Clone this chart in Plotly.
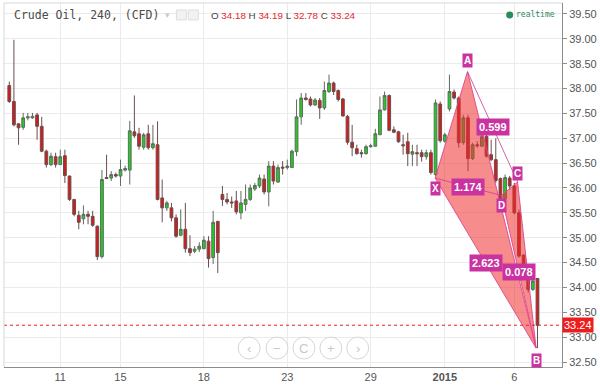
import plotly.graph_objects as go

# ---------------- data ----------------
opens = [38.06, 37.74, 37.29, 37.22, 37.41, 37.41, 37.47, 37.24, 36.74, 36.47,
         36.63, 36.47, 36.65, 36.24, 35.77, 35.45, 35.38, 35.47, 35.43, 35.23,
         34.62, 36.21, 36.20, 36.27, 36.24, 36.36, 36.36, 37.13, 37.09, 36.82,
         37.09, 36.81, 36.87, 35.80, 35.60, 35.60, 35.40, 35.05, 35.17, 34.78,
         34.73, 34.77, 34.78, 34.93, 34.60, 35.33, 35.87, 35.77, 35.72, 35.74,
         35.50, 35.67, 35.77, 35.98, 36.04, 36.18, 35.92, 36.44, 36.12, 36.42,
         36.41, 36.41, 36.73, 37.43, 37.81, 37.79, 37.67, 37.76, 37.61, 37.94,
         38.11, 37.96, 37.79, 37.44, 36.92, 36.79, 36.71, 36.69, 36.83, 36.84,
         37.07, 37.57, 37.86, 37.17, 37.13, 36.87, 36.93, 36.68, 36.71, 36.71,
         36.63, 36.71, 36.27, 37.69, 36.94, 37.59, 37.93, 37.81, 36.91, 37.41,
         36.59, 36.87, 36.84, 37.04, 36.67, 36.57, 36.19, 35.79, 36.20, 36.04,
         35.50, 34.65, 34.30, 33.96, 34.18]
highs = [38.14, 38.98, 37.30, 37.51, 37.51, 37.51, 37.51, 37.43, 36.77, 36.71,
         36.71, 36.77, 36.77, 36.25, 35.77, 35.54, 35.65, 35.54, 35.54, 35.25,
         36.36, 36.67, 36.34, 36.31, 36.57, 36.45, 37.35, 37.86, 37.21, 37.11,
         37.27, 37.27, 37.34, 36.17, 35.74, 35.70, 35.47, 35.57, 35.70, 35.05,
         34.83, 34.91, 35.03, 35.03, 35.54, 35.33, 36.04, 35.90, 35.83, 35.94,
         35.94, 36.07, 36.07, 36.10, 36.27, 36.27, 36.54, 36.54, 36.47, 36.54,
         36.57, 36.77, 37.78, 37.91, 37.91, 37.84, 37.81, 37.81, 38.14, 38.28,
         38.14, 37.98, 37.81, 37.47, 37.27, 36.87, 36.77, 36.87, 36.89, 37.19,
         37.84, 37.94, 37.88, 37.24, 37.15, 37.07, 37.11, 36.87, 36.87, 36.77,
         36.77, 36.77, 37.78, 37.74, 37.11, 38.28, 37.98, 37.84, 37.47, 37.47,
         36.91, 36.94, 37.07, 37.07, 36.97, 37.00, 36.21, 36.27, 36.24, 36.10,
         35.57, 34.67, 34.30, 34.17, 34.19]
lows = [37.71, 37.24, 36.87, 37.17, 37.36, 37.39, 36.97, 36.72, 36.41, 36.44,
        36.41, 36.47, 36.10, 35.74, 35.43, 35.17, 35.27, 35.27, 35.22, 34.55,
        34.58, 36.18, 36.14, 36.21, 36.04, 36.33, 36.07, 37.01, 36.77, 36.77,
        36.77, 36.77, 35.75, 35.31, 35.54, 35.33, 35.00, 35.03, 34.70, 34.63,
        34.69, 34.71, 34.77, 34.40, 34.47, 34.29, 35.64, 35.67, 35.60, 35.47,
        35.37, 35.54, 35.74, 35.94, 36.00, 35.87, 35.63, 36.07, 36.10, 36.27,
        36.37, 36.41, 36.64, 37.27, 37.76, 37.64, 37.65, 37.39, 37.57, 37.91,
        37.87, 37.74, 37.43, 36.87, 36.64, 36.67, 36.61, 36.67, 36.81, 36.83,
        37.07, 37.56, 37.14, 37.11, 36.91, 36.67, 36.44, 36.44, 36.44, 36.53,
        36.57, 36.27, 36.24, 36.91, 36.91, 37.54, 37.78, 36.81, 36.87, 36.34,
        36.56, 36.81, 36.83, 36.61, 36.54, 36.10, 35.67, 35.77, 35.97, 35.47,
        34.60, 34.27, 33.90, 33.93, 32.78]
closes = [37.74, 37.27, 37.21, 37.41, 37.43, 37.44, 37.24, 36.74, 36.47, 36.64,
          36.47, 36.63, 36.25, 35.77, 35.47, 35.31, 35.47, 35.43, 35.25, 34.62,
          36.17, 36.19, 36.27, 36.24, 36.37, 36.39, 37.15, 37.05, 36.84, 37.07,
          36.81, 36.89, 35.77, 35.60, 35.70, 35.40, 35.03, 35.17, 34.78, 34.70,
          34.77, 34.83, 34.95, 34.58, 35.31, 34.70, 35.77, 35.72, 35.70, 35.52,
          35.70, 35.77, 36.00, 36.05, 36.20, 35.92, 36.44, 36.14, 36.41, 36.40,
          36.44, 36.74, 37.43, 37.81, 37.78, 37.67, 37.77, 37.61, 37.96, 38.11,
          37.94, 37.78, 37.45, 36.92, 36.81, 36.69, 36.69, 36.83, 36.85, 37.09,
          37.57, 37.86, 37.16, 37.12, 36.93, 36.85, 36.69, 36.73, 36.69, 36.63,
          36.71, 36.31, 37.71, 36.95, 37.07, 37.94, 37.81, 36.91, 37.41, 36.59,
          36.87, 36.85, 37.03, 36.64, 36.57, 36.15, 35.79, 36.21, 36.04, 35.50,
          34.63, 34.30, 33.96, 34.13, 33.24]
bar_index = list(range(len(opens)))

tick_index = [11, 24, 42, 60, 78, 94, 109]
tick_labels = ["11", "15", "18", "23", "29", "<b>2015</b>", "6"]
price_ticks = [32.5, 33.0, 33.5, 34.0, 34.5, 35.0, 35.5, 36.0, 36.5, 37.0, 37.5, 38.0, 38.5, 39.0, 39.5]

# XABCD pattern points (bar index, price)
pat_names = ["X", "A", "B", "C", "D"]
pat_x = [91.9, 98.9, 113.7, 109.7, 106.2]
pat_y = [36.20, 38.34, 32.78, 36.12, 35.85]
ratio_text = ["2.623", "0.599", "0.078", "1.174"]   # XB, AC, BD, XD

last_price = 33.24
header_ohlc = ["34.18", "34.19", "32.78", "33.24"]

# ---------------- geometry helpers ----------------
L, R, T, B = 4, 564, 3, 368
W, H = 600, 386
def px(x):
    return (x - L) / (R - L)
def py(y):
    return (B - y) / (B - T)

fig = go.Figure()

fig.add_trace(go.Candlestick(
    x=bar_index, open=opens, high=highs, low=lows, close=closes,
    increasing=dict(fillcolor="#22cc22", line=dict(color="#5f6b5f", width=1)),
    decreasing=dict(fillcolor="#d61a1a", line=dict(color="#6b4d4d", width=1)),
    whiskerwidth=0, showlegend=False, hoverinfo="skip"))

P = dict(zip(pat_names, zip(pat_x, pat_y)))
fill_col = "rgba(240,45,45,0.55)"
edge_col = "rgba(222,70,140,0.9)"
for tri in (["X", "A", "B", "X"], ["B", "C", "D", "B"]):
    fig.add_trace(go.Scatter(
        x=[P[k][0] for k in tri], y=[P[k][1] for k in tri],
        mode="lines", fill="toself", fillcolor=fill_col,
        line=dict(color=edge_col, width=1), showlegend=False, hoverinfo="skip"))
for a, b in (("A", "C"), ("X", "D")):
    fig.add_trace(go.Scatter(
        x=[P[a][0], P[b][0]], y=[P[a][1], P[b][1]], mode="lines",
        line=dict(color="rgba(200,60,150,0.8)", width=1),
        showlegend=False, hoverinfo="skip"))

ann = []
lab_col = "#c9329f"
label_shift = {"X": -10, "A": 11, "B": -12, "C": 9, "D": -10}
for k in pat_names:
    ann.append(dict(x=P[k][0], y=P[k][1], xref="x", yref="y", text="<b>%s</b>" % k,
                    showarrow=False, yshift=label_shift[k], bgcolor=lab_col,
                    xanchor="center", yanchor="middle",
                    font=dict(color="white", size=10, family="Liberation Sans"), borderpad=1))
pairs = [("X", "B"), ("A", "C"), ("B", "D"), ("X", "D")]
for (a, b), t in zip(pairs, ratio_text):
    ann.append(dict(x=(P[a][0] + P[b][0]) / 2, y=(P[a][1] + P[b][1]) / 2, xref="x", yref="y",
                    text="<b>%s</b>" % t, showarrow=False, bgcolor=lab_col,
                    xanchor="center", yanchor="middle",
                    font=dict(color="white", size=11, family="Liberation Sans"), borderpad=2))

# header
ann.append(dict(x=px(12), y=py(15), xref="paper", yref="paper", xanchor="left", yanchor="middle",
                text="Crude Oil, 240, (CFD)", showarrow=False,
                font=dict(family="DejaVu Sans Mono", size=11.5, color="#4a4a4a")))
ann.append(dict(x=px(164), y=py(15), xref="paper", yref="paper", xanchor="left", yanchor="middle",
                text="▾", showarrow=False, font=dict(size=9, color="#cccccc")))
red = "#e0282d"
ohlc_txt = ("O <span style='color:%s'>%s</span> H <span style='color:%s'>%s</span> "
            "L <span style='color:%s'>%s</span> C <span style='color:%s'>%s</span>") % (
    red, header_ohlc[0], red, header_ohlc[1], red, header_ohlc[2], red, header_ohlc[3])
ann.append(dict(x=px(210), y=py(16), xref="paper", yref="paper", xanchor="left", yanchor="middle",
                text=ohlc_txt, showarrow=False,
                font=dict(family="Liberation Sans", size=9.8, color="#444444")))
ann.append(dict(x=px(516), y=py(15), xref="paper", yref="paper", xanchor="left", yanchor="middle",
                text="realtime", showarrow=False,
                font=dict(family="DejaVu Sans Mono", size=8, color="#2c8a5c")))
# last price label
ann.append(dict(x=1, y=last_price, xref="paper", yref="y", xanchor="left", yanchor="middle",
                text="%.2f" % last_price, showarrow=False, bgcolor="#ee1c1c",
                font=dict(family="Liberation Sans", size=11, color="white"), borderpad=1))

# nav buttons
btn_x = [250, 278, 305, 332, 359]
btn_txt = ["‹", "−", "C", "+", "›"]
shapes = []
for bx, bt in zip(btn_x, btn_txt):
    shapes.append(dict(type="circle", xref="paper", yref="paper",
                       x0=px(bx - 11), x1=px(bx + 11), y0=py(360), y1=py(338),
                       line=dict(color="#d6d6d6", width=1), fillcolor="rgba(255,255,255,0.6)"))
    ann.append(dict(x=px(bx), y=py(349), xref="paper", yref="paper", text=bt, showarrow=False,
                    xanchor="center", yanchor="middle",
                    font=dict(family="Liberation Sans", size=13, color="#c8c8c8")))

# header icons
for x0 in (177, 189):
    shapes.append(dict(type="rect", xref="paper", yref="paper", x0=px(x0), x1=px(x0 + 10),
                       y0=py(20), y1=py(10), line=dict(color="#dedede", width=1), fillcolor="#f2f2f2"))
# realtime dot
shapes.append(dict(type="circle", xref="paper", yref="paper", x0=px(508), x1=px(515),
                   y0=py(18.5), y1=py(11.5), line=dict(width=0), fillcolor="#2c8a5c"))
# last price dotted line
shapes.append(dict(type="line", xref="paper", yref="y", x0=0, x1=1, y0=last_price, y1=last_price,
                   line=dict(color="#ee1c1c", width=1, dash="dot")))
# frame: top & left light borders
shapes.append(dict(type="line", xref="paper", yref="paper", x0=0, x1=1, y0=1, y1=1,
                   line=dict(color="#d8d8d8", width=1)))
shapes.append(dict(type="line", xref="paper", yref="paper", x0=0, x1=0, y0=0, y1=1,
                   line=dict(color="#d8d8d8", width=1)))

fig.update_layout(
    width=W, height=H,
    margin=dict(l=L, r=W - R, t=T, b=H - B),
    paper_bgcolor="white", plot_bgcolor="white",
    showlegend=False, boxgap=0.15,
    annotations=ann, shapes=shapes,
    xaxis=dict(range=[-1.14, 119.29], tickmode="array", tickvals=tick_index, ticktext=tick_labels,
               showgrid=True, gridcolor="#ebebeb", gridwidth=1, zeroline=False,
               showline=True, linecolor="#8c8c8c", linewidth=1, ticks="",
               tickfont=dict(family="Liberation Sans", size=11, color="#555555"),
               rangeslider=dict(visible=False), fixedrange=True),
    yaxis=dict(range=[32.40, 39.72], side="right", tickmode="array", tickvals=price_ticks,
               tickformat=".2f", showgrid=True, gridcolor="#ebebeb", gridwidth=1, zeroline=False,
               showline=True, linecolor="#8c8c8c", linewidth=1, ticks="outside", ticklen=4,
               tickcolor="#8c8c8c",
               tickfont=dict(family="Liberation Sans", size=11, color="#555555"), fixedrange=True),
)

fig.write_html("out.html", config={"displayModeBar": False},
               post_script="document.body.style.margin='0px';document.body.style.overflow='hidden';")
